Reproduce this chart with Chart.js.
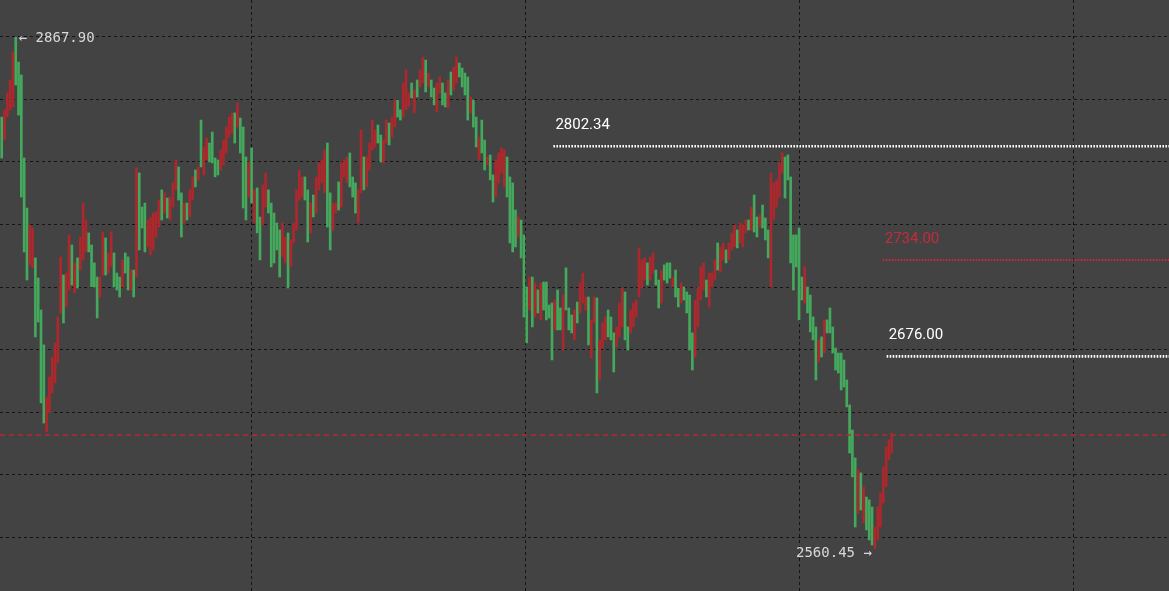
<!DOCTYPE html>
<html>
<head>
<meta charset="utf-8">
<script src="https://cdn.jsdelivr.net/npm/chart.js@4.4.1/dist/chart.umd.min.js"></script>
<style>
  html, body { margin: 0; padding: 0; background: #434343; }
  #wrap { width: 1169px; height: 591px; position: relative; }
</style>
</head>
<body>
<div id="wrap"><canvas id="chart"></canvas></div>
<script>
// one bar per session, left to right
const highs = [
  2819.9, 2824.2, 2834.4, 2842.2, 2859.0, 2867.9, 2853.0, 2845.2, 2795.3, 2765.2,
  2755.0, 2753.2, 2735.2, 2723.1, 2703.9, 2682.9, 2651.6, 2663.6, 2675.6, 2684.1,
  2699.7, 2735.8, 2724.9, 2726.1, 2749.0, 2743.0, 2732.2, 2735.2, 2747.8, 2768.2,
  2758.0, 2750.2, 2743.0, 2732.2, 2723.7, 2723.7, 2750.8, 2747.2, 2738.2, 2750.8,
  2738.2, 2726.1, 2723.7, 2734.0, 2738.2, 2735.8, 2727.9,

  2727.9, 2789.3, 2786.3, 2765.8, 2768.2, 2758.0, 2759.8, 2762.2, 2762.8, 2770.0,
  2776.1, 2774.3, 2771.2, 2771.8, 2780.3, 2794.1, 2789.9, 2774.3, 2768.2, 2768.2,
  2776.1, 2783.9, 2788.1, 2789.9, 2818.1, 2801.9, 2807.3, 2804.3, 2810.9, 2795.3,
  2794.1, 2800.1, 2806.1, 2813.9, 2819.9, 2822.4, 2822.4, 2828.4, 2819.3, 2813.9,
  2795.9, 2792.9, 2801.3, 2776.1, 2777.3, 2759.8, 2779.1, 2786.3, 2776.1, 2768.2,

  2762.2, 2756.2, 2752.0, 2756.2, 2747.8, 2750.2, 2746.0, 2756.2, 2776.1, 2788.1,
  2783.9, 2783.9, 2776.1, 2768.2, 2773.0, 2783.9, 2792.3, 2794.1, 2800.1, 2804.3,
  2774.3, 2768.2, 2768.2, 2780.9, 2792.3, 2794.1, 2795.9, 2798.3, 2783.9, 2780.3,
  2776.1, 2812.1, 2795.9, 2795.9, 2804.3, 2818.1, 2812.1, 2815.1, 2809.1, 2806.1,
  2818.1, 2816.3, 2819.9, 2830.2, 2830.2, 2824.2,

  2840.4, 2848.2, 2834.4, 2840.4, 2836.2, 2842.2, 2848.2, 2856.0, 2854.2, 2846.4,
  2842.2, 2837.4, 2840.4, 2844.0, 2840.4, 2834.4, 2842.2, 2847.0, 2850.0, 2856.0,
  2852.4, 2849.4, 2846.4, 2844.0, 2832.0, 2830.2, 2819.9, 2807.9, 2818.1, 2806.1,
  2795.9, 2797.1, 2785.1, 2794.1, 2798.3, 2801.3, 2800.1, 2795.9, 2783.9, 2780.3,
  2764.0, 2759.8, 2758.0, 2749.0, 2717.7, 2723.7, 2723.7, 2720.1, 2715.9, 2720.1,
  2720.7,

  2720.7, 2706.9, 2708.1, 2709.9, 2715.9, 2705.1, 2712.9, 2729.2, 2705.1, 2700.9,
  2703.9, 2708.7, 2720.1, 2726.1, 2711.7, 2711.7, 2697.9, 2711.7, 2711.1, 2685.9,
  2696.1, 2699.7, 2703.9, 2699.7, 2690.1, 2693.7, 2708.1, 2717.1, 2714.7, 2693.7,
  2703.9, 2708.1, 2709.9, 2741.2, 2734.0, 2735.2, 2732.2, 2735.8, 2738.2, 2727.9,
  2721.9, 2727.9, 2731.0, 2732.2, 2732.2, 2723.7, 2727.9, 2717.1, 2720.1, 2717.7,
  2714.7, 2712.9,

  2690.1, 2709.9, 2717.7, 2729.8, 2732.2, 2721.9, 2726.1, 2726.1, 2734.0, 2744.2,
  2741.8, 2744.2, 2740.0, 2744.2, 2750.2, 2755.0, 2752.0, 2756.2, 2755.0, 2758.0,
  2758.0, 2765.8, 2773.0, 2759.8, 2761.0, 2767.0, 2759.2, 2752.0, 2786.3, 2780.3,
  2782.1, 2792.3, 2798.3, 2795.9, 2797.1, 2783.9,

  2749.0, 2749.0, 2753.2, 2723.7, 2729.8, 2717.7, 2712.9, 2699.7, 2693.7, 2685.9,
  2687.7, 2697.9, 2697.9, 2705.1, 2693.7, 2681.0, 2678.0, 2678.0, 2673.8, 2661.8,
  2646.8, 2631.7, 2614.9, 2607.7, 2605.9, 2597.5, 2591.4, 2589.7, 2585.4, 2573.4,
  2585.4, 2593.9, 2609.5, 2621.5, 2625.7, 2629.9
];

const lows = [
  2795.3, 2806.1, 2819.9, 2824.2, 2826.0, 2839.2, 2821.1, 2771.8, 2738.8, 2721.9,
  2731.0, 2729.2, 2687.7, 2696.7, 2648.0, 2635.9, 2630.5, 2642.0, 2654.0, 2660.0,
  2672.0, 2702.1, 2696.1, 2705.7, 2715.9, 2718.9, 2714.1, 2717.1, 2727.9, 2734.0,
  2738.8, 2738.8, 2717.7, 2717.7, 2699.1, 2711.7, 2724.9, 2724.9, 2726.1, 2729.8,
  2717.7, 2715.9, 2711.7, 2717.7, 2726.1, 2715.9, 2715.9,

  2711.7, 2723.7, 2740.0, 2753.2, 2738.8, 2741.8, 2737.0, 2740.0, 2747.8, 2753.8,
  2758.0, 2762.2, 2759.2, 2758.0, 2765.8, 2776.1, 2770.0, 2747.8, 2756.2, 2758.0,
  2759.8, 2770.0, 2777.9, 2782.1, 2789.9, 2785.1, 2794.1, 2792.9, 2792.3, 2783.9,
  2785.1, 2788.1, 2791.1, 2798.3, 2807.9, 2810.3, 2804.3, 2813.9, 2798.3, 2765.2,
  2758.0, 2771.8, 2768.2, 2756.2, 2750.2, 2734.0, 2755.0, 2765.8, 2762.2, 2729.8,

  2732.2, 2740.0, 2723.7, 2735.8, 2732.2, 2717.1, 2729.8, 2744.2, 2752.0, 2770.0,
  2771.8, 2770.0, 2744.8, 2750.2, 2759.8, 2762.2, 2776.1, 2780.3, 2774.3, 2753.8,
  2740.0, 2752.0, 2762.2, 2764.0, 2765.8, 2783.9, 2780.3, 2777.9, 2771.8, 2762.2,
  2756.2, 2774.3, 2776.1, 2777.9, 2788.1, 2800.1, 2801.9, 2804.3, 2792.9, 2792.3,
  2804.3, 2803.1, 2807.9, 2813.9, 2819.9, 2818.1,

  2819.9, 2824.2, 2826.0, 2831.4, 2822.4, 2832.0, 2838.0, 2840.4, 2835.0, 2838.0,
  2832.0, 2827.2, 2823.0, 2834.4, 2827.2, 2826.0, 2825.4, 2833.2, 2836.2, 2840.4,
  2844.0, 2838.0, 2833.2, 2818.1, 2822.4, 2813.9, 2801.9, 2794.1, 2798.3, 2788.1,
  2791.1, 2782.1, 2768.8, 2771.8, 2780.3, 2786.3, 2777.9, 2771.8, 2744.2, 2738.8,
  2741.8, 2747.8, 2735.2, 2699.7, 2684.1, 2703.9, 2693.7, 2699.7, 2702.1, 2697.9,
  2703.9,

  2697.9, 2699.1, 2673.8, 2691.9, 2691.9, 2691.9, 2679.8, 2703.9, 2691.9, 2690.1,
  2685.9, 2696.1, 2702.1, 2708.1, 2703.9, 2682.9, 2675.0, 2696.1, 2654.0, 2661.8,
  2681.0, 2685.9, 2687.7, 2685.9, 2666.6, 2681.6, 2687.7, 2693.7, 2685.9, 2679.8,
  2690.1, 2693.7, 2699.7, 2711.7, 2717.1, 2721.9, 2718.9, 2721.9, 2726.1, 2718.9,
  2705.1, 2708.1, 2721.9, 2720.1, 2723.1, 2717.7, 2711.7, 2705.7, 2708.1, 2709.9,
  2702.1, 2679.8,

  2667.8, 2675.6, 2693.7, 2709.9, 2715.9, 2711.7, 2705.7, 2717.7, 2721.9, 2727.9,
  2726.7, 2734.0, 2732.2, 2734.0, 2740.0, 2741.8, 2741.2, 2744.2, 2741.8, 2750.2,
  2752.0, 2752.0, 2750.8, 2747.8, 2753.8, 2753.2, 2746.0, 2735.2, 2717.7, 2758.0,
  2765.8, 2771.8, 2786.3, 2771.2, 2782.1, 2732.2,

  2715.9, 2729.8, 2697.9, 2709.9, 2708.1, 2702.1, 2690.7, 2685.9, 2661.8, 2672.6,
  2675.6, 2678.0, 2690.1, 2690.1, 2678.0, 2667.8, 2666.0, 2655.8, 2657.6, 2645.6,
  2617.9, 2603.5, 2573.4, 2581.8, 2583.6, 2575.8, 2571.6, 2565.6, 2562.6, 2560.45,
  2565.6, 2573.4, 2587.8, 2597.5, 2613.7, 2617.9
];

// 1 = closed higher (red), 0 = closed lower (green)
const rising = [
  0,1,1,1,1,0,0,0,0,0, 1,1,0,0,0,0,1,1,1,1, 1,1,0,1,1,0,1,0,1,1,
  1,0,0,0,0,1,1,0,1,1, 0,0,0,1,0,0,1,
  0,1,0,0,0,1,1,1,1,1, 0,1,0,1,1,1,0,0,1,0, 1,1,0,1,0,1,1,0,0,0,
  0,1,1,1,1,1,0,1,0,0, 0,1,0,1,0,0,1,1,0,0,
  0,0,0,1,1,0,1,1,1,1, 1,0,0,1,0,1,1,1,1,0, 0,1,1,0,1,1,1,0,0,0,
  1,1,0,1,1,1,1,0,0,1, 1,0,1,1,0,0,
  1,1,1,0,1,0,1,1,0,1, 0,0,1,1,0,0,1,0,1,1, 0,0,0,0,1,0,0,1,0,0,
  1,0,0,1,1,1,1,0,0,0, 0,1,0,0,0,1,0,1,0,1, 0,
  0,0,0,1,0,0,1,0,0,0, 1,0,1,1,1,0,1,1,0,1, 1,1,0,0,0,1,1,1,0,0,
  1,1,1,1,1,1,0,1,1,0, 0,1,0,0,0,1,0,0,1,0, 0,0,
  0,1,1,1,1,0,1,1,1,0, 1,1,0,1,1,1,0,1,1,1, 0,1,0,0,1,0,0,0,1,1,
  1,1,1,0,0,0,
  0,0,0,0,1,0,0,0,0,1, 0,1,0,0,0,0,0,0,0,0, 0,0,0,1,0,1,0,0,0,1,
  1,1,1,1,1,1
];

const priceGrid = [2868.2, 2830.6, 2792.9, 2755.3, 2717.6, 2680.0, 2642.4, 2604.8, 2567.1];
const timeGrid = [88.8, 186.6, 284.1, 381.7];   // session index of the period breaks

const levelValues = [2802.34, 2734.00, 2676.00];
const levelStart = [196.5, 313.8, 315.2];        // session where each level begins
const lastPrice = 2628.7;

const UP = '#ad282d';
const DOWN = '#44a95c';
const levelColors = ['#ffffff', '#c9293a', '#ffffff'];

const N = Math.min(highs.length, lows.length, rising.length);
const step = 890 / (N - 1);
const xMin = -1.7 / step;
const xMax = (1169 - 1.7) / step;

const bars = [];
for (let i = 0; i < N; i++) bars.push({ x: i, y: [lows[i], highs[i]] });

const levelSets = levelValues.map((v, k) => ({
  type: 'line',
  data: [{ x: levelStart[k], y: v }, { x: xMax, y: v }],
  borderColor: levelColors[k],
  borderWidth: k === 1 ? 2 : 2.6,
  borderDash: [1.6, 1.4],
  borderCapStyle: 'butt',
  pointRadius: 0,
  order: 1
}));

const annotate = {
  id: 'annotate',
  afterDatasetsDraw(chart) {
    const { ctx, scales: { x, y } } = chart;
    ctx.save();
    ctx.textBaseline = 'middle';
    ctx.textAlign = 'left';
    ctx.font = '15px Roboto, "Liberation Sans", sans-serif';
    levelValues.forEach((v, k) => {
      ctx.fillStyle = levelColors[k];
      ctx.fillText(v.toFixed(2), x.getPixelForValue(levelStart[k]) + 2, y.getPixelForValue(v) - 21);
    });

    // session extremes
    const hi = highs.slice(0, N), lo = lows.slice(0, N);
    const iMax = hi.indexOf(Math.max(...hi));
    const iMin = lo.indexOf(Math.min(...lo));
    ctx.font = '14px "DejaVu Sans Mono", monospace';
    ctx.fillStyle = '#d9d9d9';
    ctx.fillText('\u2190 ' + hi[iMax].toFixed(2), x.getPixelForValue(iMax) + 3, y.getPixelForValue(hi[iMax]) + 1);
    ctx.textAlign = 'right';
    ctx.fillText(lo[iMin].toFixed(2) + ' \u2192', x.getPixelForValue(iMin) - 3, y.getPixelForValue(lo[iMin]) + 4.5);
    ctx.restore();
  }
};

const hiddenAxis = {
  offset: false,
  grid: { color: '#141414', lineWidth: 1, drawTicks: false, offset: false },
  border: { display: false, dash: [3, 3] },
  ticks: { display: false }
};

new Chart(document.getElementById('chart'), {
  data: {
    datasets: [
      {
        type: 'bar',
        data: bars,
        backgroundColor: rising.slice(0, N).map(r => r ? UP : DOWN),
        barThickness: 2,
        borderWidth: 0,
        grouped: false,
        order: 10
      },
      ...levelSets,
      {
        type: 'line',
        data: [{ x: xMin, y: lastPrice }, { x: xMax, y: lastPrice }],
        borderColor: '#b8282d',
        borderWidth: 1.5,
        borderDash: [5, 4],
        borderCapStyle: 'butt',
        pointRadius: 0,
        order: 2
      }
    ]
  },
  options: {
    responsive: true,
    maintainAspectRatio: false,
    animation: false,
    layout: { padding: 0 },
    plugins: { legend: { display: false }, tooltip: { enabled: false } },
    scales: {
      x: {
        ...hiddenAxis,
        type: 'linear',
        min: xMin,
        max: xMax,
        afterBuildTicks: s => { s.ticks = timeGrid.map(v => ({ value: v })); }
      },
      y: {
        ...hiddenAxis,
        type: 'linear',
        min: 2534.9,
        max: 2890.3,
        afterBuildTicks: s => { s.ticks = priceGrid.map(v => ({ value: v })); }
      }
    }
  },
  plugins: [annotate]
});
</script>
</body>
</html>
